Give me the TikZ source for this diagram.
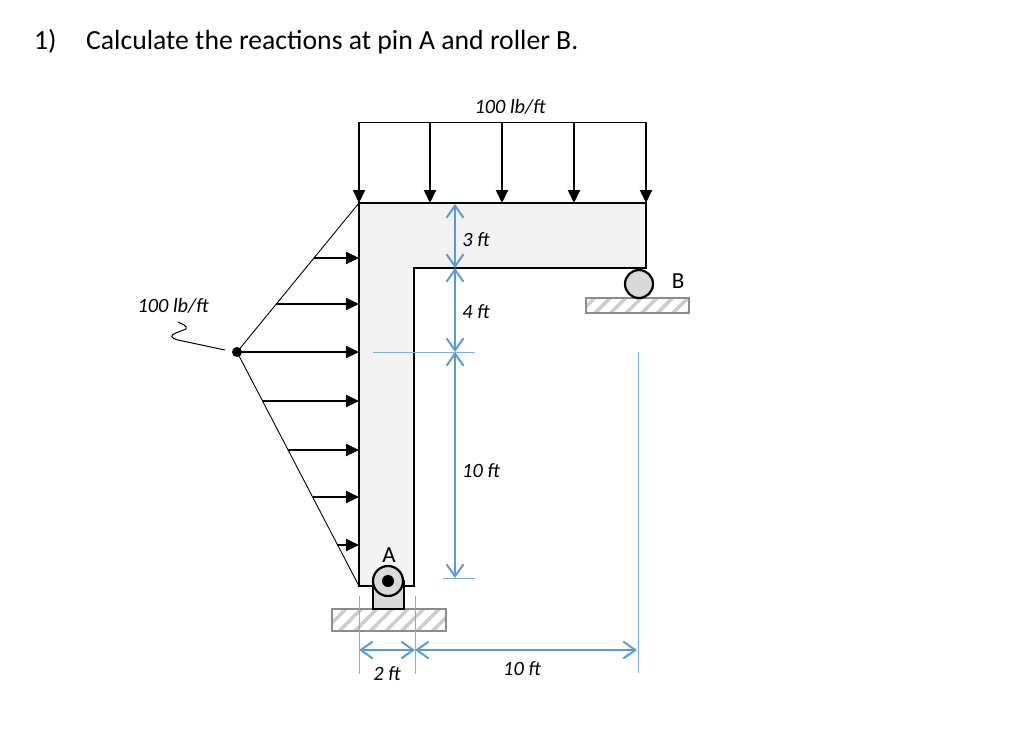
\documentclass[tikz,border=0pt]{standalone}
\usepackage{fontspec}
\setmainfont{Carlito}
\usetikzlibrary{arrows.meta,patterns.meta}
\tikzset{
	member/.style={draw=black, line width=2.2pt, fill=black!5},
	load/.style={line width=2pt, -{Triangle[length=13pt, width=12pt]}},
	edge/.style={line width=0.9pt},
	dimline/.style={color=dimblue, line width=2pt, {Straight Barb[length=12pt, width=17pt]}-{Straight Barb[length=12pt, width=17pt]}},
	extline/.style={color=dimblue!80, line width=0.9pt},
	ground/.style={draw=black!45, line width=2.2pt, pattern={Lines[angle=45, distance=11pt, line width=3.5pt]}, pattern color=black!20},
	part/.style={draw=black, line width=2.2pt, fill=black!15},
	label/.style={font=\fontsize{20.3}{22}\selectfont\itshape, inner sep=0pt},
	letter/.style={font=\fontsize{23}{25}\selectfont, inner sep=0pt},
}
\definecolor{dimblue}{HTML}{5B9BD5}
\begin{document}
\begin{tikzpicture}[x=1pt, y=-1pt]
	\useasboundingbox (0,0) rectangle (1024,737);
	\node[font=\fontsize{27.7}{30}\selectfont, anchor=base west, inner sep=0pt] (number) at (34,49) {1)};
	\node[font=\fontsize{27.7}{30}\selectfont, anchor=base west, inner sep=0pt] (title) at (86,49) {Calculate the reactions at pin A and roller B.};
	%% frame
	\draw[member] (359,203) -- (646,203) -- (646,268) -- (414,268) -- (414,586) -- (359,586) -- cycle;
	%% top load
	\draw[edge] (359,122) -- (646,122);
	\draw[load] (359,122) -- (359,203);
	\draw[load] (430,122) -- (430,203);
	\draw[load] (502,122) -- (502,203);
	\draw[load] (574,122) -- (574,203);
	\draw[load] (646,122) -- (646,203);
	\node[label] (topload) at (510,107) {100 lb/ft};
	%% side load
	\coordinate (apex) at (237,352);
	\draw[edge] (359,203) -- (apex) -- (359,586);
	\draw[load] (314,258) -- (359,258);
	\draw[load] (276,304) -- (359,304);
	\draw[load] (apex) -- (359,352);
	\draw[load] (262,401) -- (359,401);
	\draw[load] (288,450) -- (359,450);
	\draw[load] (313,497) -- (359,497);
	\draw[load] (337,545) -- (359,545);
	\fill (apex) circle (5);
	\node[label] (sideload) at (173,306) {100 lb/ft};
	\draw[line width=1pt] (225,350) -- (178,340) .. controls (170,338) and (170,335) .. (176,333) -- (186,329) .. controls (188,326) and (182,324) .. (178,322);
	%% pin A
	\draw[ground] (332,609) rectangle (446,631);
	\draw[part] (373,609) -- (373,581) -- (404,581) -- (404,609) -- cycle;
	\draw[part] (388,581) circle (15);
	\fill (388,581) circle (6);
	\node[letter] (pinA) at (389,555) {A};
	%% roller B
	\draw[ground] (586,298) rectangle (689,313);
	\draw[part] (639,284) circle (14);
	\node[letter] (rollerB) at (678,281) {B};
	%% dimensions
	\draw[extline] (373,352) -- (475,352);
	\draw[extline] (443,578) -- (475,578);
	\draw[extline] (638,352) -- (638,673);
	\draw[extline] (359,596) -- (359,674);
	\draw[extline] (415,596) -- (415,674);
	\draw[dimline] (455,204) -- (455,268);
	\draw[dimline] (455,268) -- (455,352);
	\draw[dimline] (455,352) -- (455,578);
	\draw[dimline] (359,650) -- (415,650);
	\draw[dimline] (415,650) -- (637,650);
	\node[label] (height3) at (476,240) {3 ft};
	\node[label] (height4) at (476,312) {4 ft};
	\node[label] (height10) at (481,471) {10 ft};
	\node[label] (width2) at (387,674) {2 ft};
	\node[label] (width10) at (522,669) {10 ft};
\end{tikzpicture}
\end{document}
